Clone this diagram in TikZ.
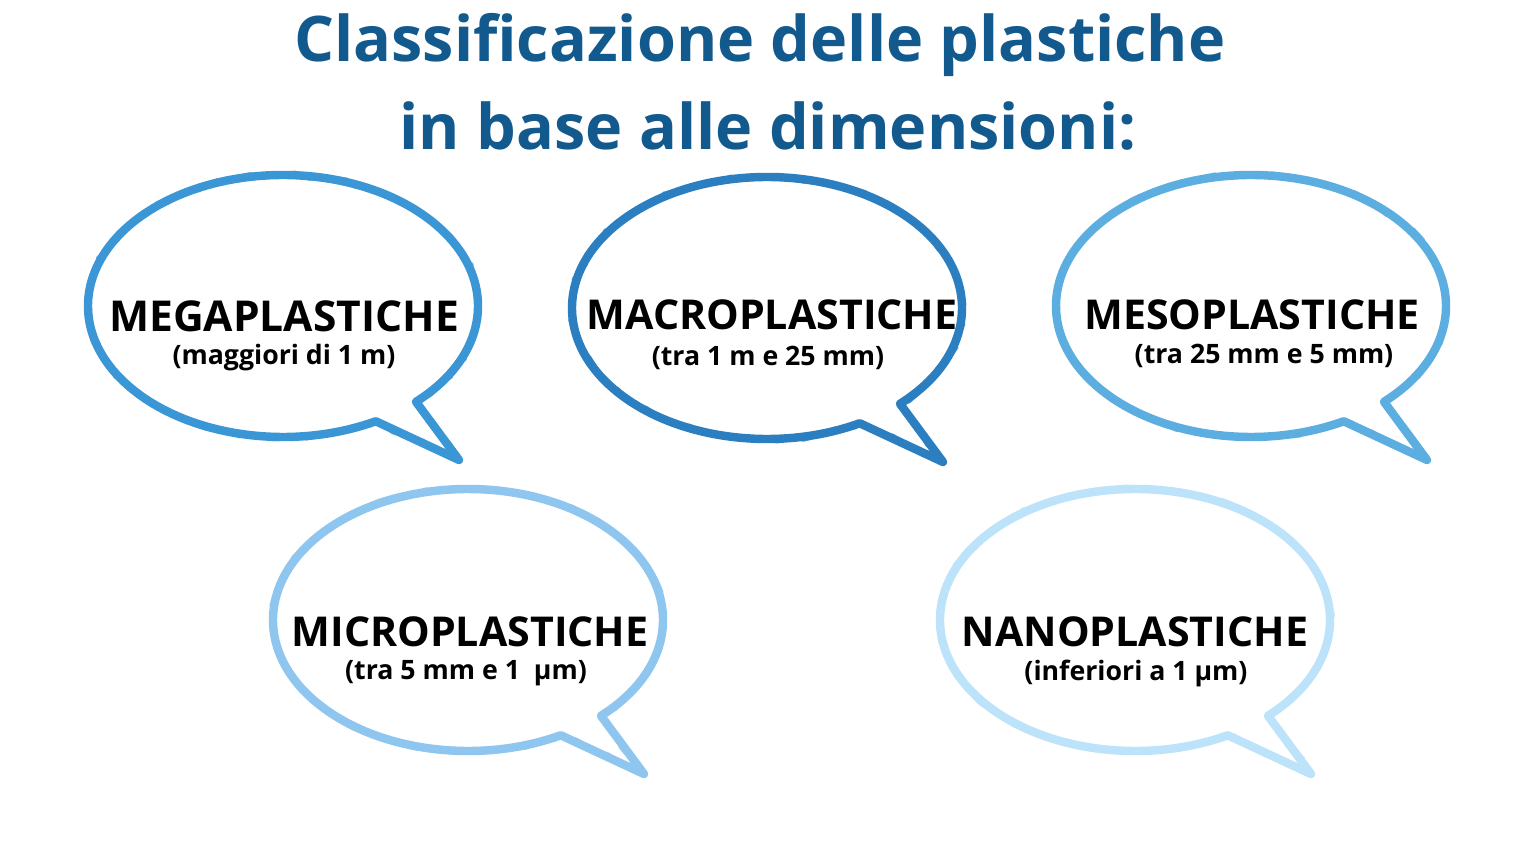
\documentclass[tikz,border=0pt]{standalone}
\usepackage{fontspec}
\setmainfont{Open Sans}
\usetikzlibrary{decorations.pathmorphing}
\definecolor{titleblue}{HTML}{125A8E}
\definecolor{bA}{HTML}{3A96D4}
\definecolor{bB}{HTML}{2B7FC0}
\definecolor{bC}{HTML}{5CAEE0}
\definecolor{bD}{HTML}{8EC6F0}
\definecolor{bE}{HTML}{BCE3F9}
\tikzset{
  bubbleline/.style={draw=#1, line width=2.4pt, line join=round, fill=white},
  pics/bubble/.style={code={
    \path[bubbleline=#1] (-47:1.95 and 1.31)
      arc[start angle=-47, end angle=298.4, x radius=1.95, y radius=1.31]
      -- (1.76,-1.54) -- cycle;
    \path[draw=#1, opacity=0.7, line width=0.8pt, line join=round,
      decorate, decoration={random steps, segment length=2.5pt, amplitude=1pt}]
      (-47:1.95 and 1.31)
      arc[start angle=-47, end angle=298.4, x radius=1.95, y radius=1.31]
      -- (1.76,-1.54) -- cycle;
  }},
  head/.style={font=\bfseries\fontsize{11.7pt}{14pt}\selectfont, text=black, inner sep=0pt},
  sub/.style={font=\bfseries\fontsize{7.6pt}{9pt}\selectfont, text=black, inner sep=0pt},
  maintitle/.style={font=\bfseries\fontsize{17.9pt}{25pt}\selectfont, text=titleblue, align=center, inner sep=0pt}
}
\begin{document}
\begin{tikzpicture}
\useasboundingbox (0,0) rectangle (15.36,-8.64);
\fill[white] (0,0) rectangle (15.36,-8.64);

\node[maintitle] (title) at (7.6,-0.82) {Classificazione delle plastiche\\\hspace*{0.16cm}in base alle dimensioni:};

\pic (b1) at (2.83,-3.06) {bubble=bA};
\pic (b2) at (7.67,-3.08) {bubble=bB};
\pic (b3) at (12.51,-3.06) {bubble=bC};
\pic (b4) at (4.68,-6.20) {bubble=bD};
\pic (b5) at (11.35,-6.20) {bubble=bE};

\node[head, font=\bfseries\fontsize{12.1pt}{14pt}\selectfont] (h1) at (2.84,-3.16) {MEGAPLASTICHE};
\node[sub]  (s1) at (2.84,-3.58) {(maggiori di 1 m)};
\node[head] (h2) at (7.72,-3.15) {MACROPLASTICHE};
\node[sub]  (s2) at (7.68,-3.58) {(tra 1 m e 25 mm)};
\node[head] (h3) at (12.52,-3.15) {MESOPLASTICHE};
\node[sub]  (s3) at (12.64,-3.56) {(tra 25 mm e 5 mm)};
\node[head] (h4) at (4.70,-6.32) {MICROPLASTICHE};
\node[sub]  (s4) at (4.66,-6.73) {(tra 5 mm e 1 \ µm)};
\node[head] (h5) at (11.35,-6.32) {NANOPLASTICHE};
\node[sub]  (s5) at (11.36,-6.73) {(inferiori a 1 µm)};
\end{tikzpicture}
\end{document}
